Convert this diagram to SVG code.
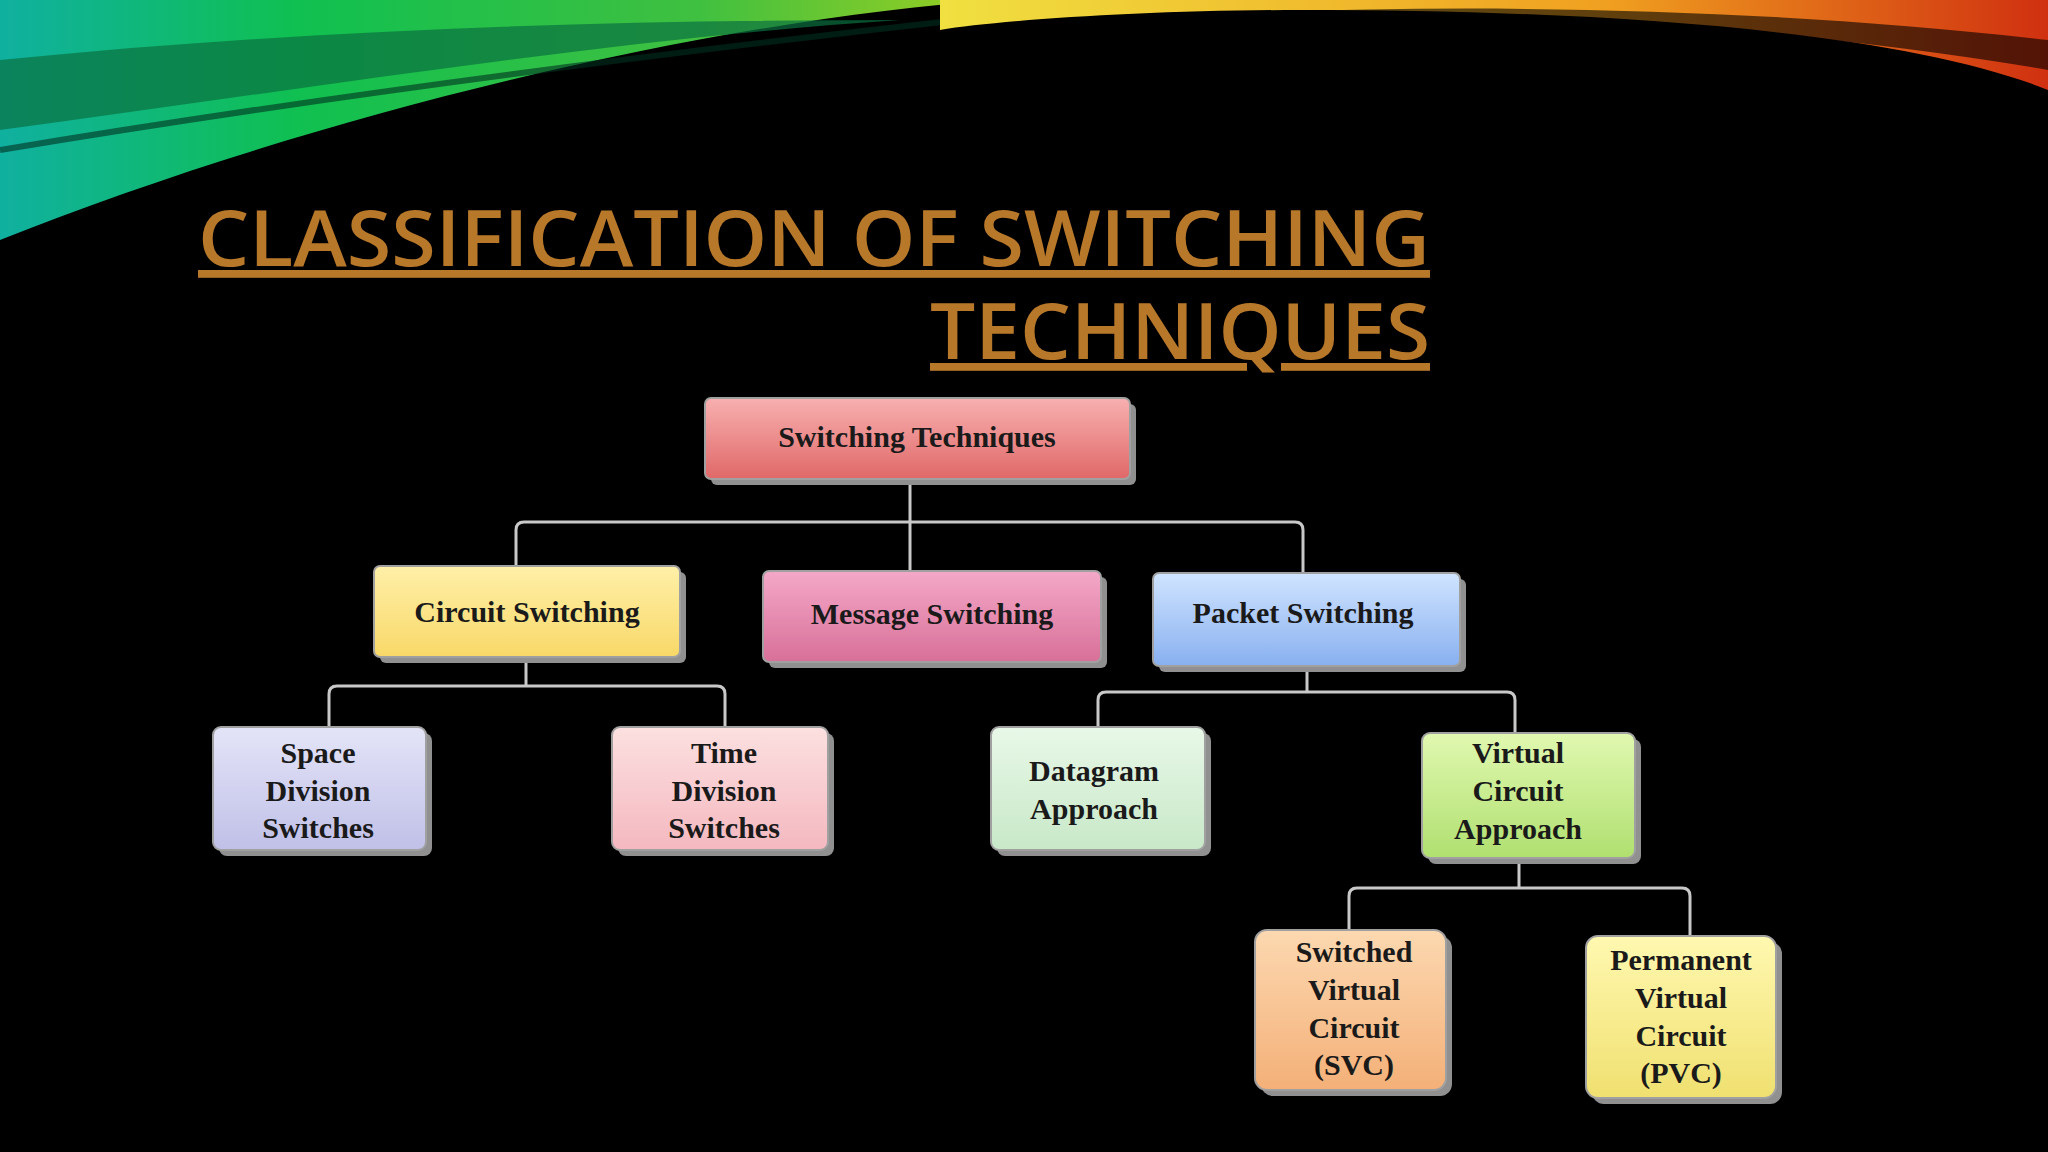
<svg xmlns="http://www.w3.org/2000/svg" width="2048" height="1152" viewBox="0 0 2048 1152">
<defs>
<linearGradient id="sw" x1="0" y1="0" x2="1" y2="0">
<stop offset="0" stop-color="#10b0a0"/><stop offset="0.3" stop-color="#10c050"/><stop offset="0.7" stop-color="#40c040"/><stop offset="1" stop-color="#a0d020"/>
</linearGradient>
<linearGradient id="sw2" x1="0" y1="0" x2="1" y2="0">
<stop offset="0" stop-color="#f0e040"/><stop offset="0.6" stop-color="#f0a020"/><stop offset="1" stop-color="#d03010"/>
</linearGradient>
<linearGradient id="gRed" x1="0" y1="0" x2="0" y2="1"><stop offset="0" stop-color="#f8b0b0"/><stop offset="1" stop-color="#e06868"/></linearGradient>
<linearGradient id="gYel" x1="0" y1="0" x2="0" y2="1"><stop offset="0" stop-color="#fff0a8"/><stop offset="1" stop-color="#f8d868"/></linearGradient>
<linearGradient id="gPink" x1="0" y1="0" x2="0" y2="1"><stop offset="0" stop-color="#f4a8c8"/><stop offset="1" stop-color="#d87098"/></linearGradient>
<linearGradient id="gBlue" x1="0" y1="0" x2="0" y2="1"><stop offset="0" stop-color="#d0e4ff"/><stop offset="1" stop-color="#88b0f0"/></linearGradient>
<linearGradient id="gLav" x1="0" y1="0" x2="0" y2="1"><stop offset="0" stop-color="#e4e4f8"/><stop offset="1" stop-color="#c0c0e8"/></linearGradient>
<linearGradient id="gRose" x1="0" y1="0" x2="0" y2="1"><stop offset="0" stop-color="#fce0e0"/><stop offset="1" stop-color="#f4b8c0"/></linearGradient>
<linearGradient id="gMint" x1="0" y1="0" x2="0" y2="1"><stop offset="0" stop-color="#e8f8e8"/><stop offset="1" stop-color="#c8e8c8"/></linearGradient>
<linearGradient id="gGreen" x1="0" y1="0" x2="0" y2="1"><stop offset="0" stop-color="#e0f8b0"/><stop offset="1" stop-color="#b0e070"/></linearGradient>
<linearGradient id="gOr" x1="0" y1="0" x2="0" y2="1"><stop offset="0" stop-color="#fcd8b0"/><stop offset="1" stop-color="#f4b078"/></linearGradient>
<linearGradient id="gPy" x1="0" y1="0" x2="0" y2="1"><stop offset="0" stop-color="#fff8b0"/><stop offset="1" stop-color="#f0e070"/></linearGradient>
</defs>
<style>
.box{stroke:#a0a0a0;stroke-width:2}
.sh{fill:#909090}
.t{font-family:"Liberation Serif","DejaVu Serif",serif;font-weight:bold;font-size:30px;fill:#1a1a1a;text-anchor:middle}
.c{fill:none;stroke:#c8c8c8;stroke-width:3}
.title{font-family:"Open Sans","Liberation Sans",sans-serif;font-weight:600;font-size:78px;fill:#b8782a;text-anchor:end;text-decoration:underline}
</style>
<rect width="2048" height="1152" fill="#000"/>
<path d="M0 0 H1000 C700 20 300 120 0 240 Z" fill="url(#sw)"/>
<path d="M0 60 C300 30 600 20 900 20 C600 40 300 90 0 130 Z" fill="#0a7040" opacity="0.7"/>
<path d="M0 150 C300 100 600 60 960 20" stroke="#003020" stroke-width="6" fill="none" opacity="0.6"/>
<path d="M940 0 H2048 V90 C1900 30 1600 10 1300 10 C1150 10 1000 20 940 30 Z" fill="url(#sw2)"/>
<path d="M1000 30 C1300 5 1700 10 2048 70 V40 C1700 0 1300 0 1000 30Z" fill="#000" opacity="0.6"/>
<text class="title" x="1430" y="266" textLength="1232" lengthAdjust="spacingAndGlyphs">CLASSIFICATION OF SWITCHING</text>
<text class="title" x="1430" y="359" textLength="500" lengthAdjust="spacingAndGlyphs">TECHNIQUES</text>
<g id="connectors">
<path class="c" d="M910 479 V522 M516 566 V530 Q516 522 524 522 H1295 Q1303 522 1303 530 V573 M910 522 V571"/>
<path class="c" d="M526 657 V686 M329 727 V694 Q329 686 337 686 H717 Q725 686 725 694 V727"/>
<path class="c" d="M1307 666 V692 M1098 727 V700 Q1098 692 1106 692 H1507 Q1515 692 1515 700 V733"/>
<path class="c" d="M1519 858 V888 M1349 930 V896 Q1349 888 1357 888 H1682 Q1690 888 1690 896 V936"/>
</g>
<g id="n1"><rect class="sh" x="711" y="404" width="425" height="81" rx="6"/><rect class="box" x="705" y="398" width="425" height="81" rx="6" fill="url(#gRed)"/><text class="t" x="917" y="447">Switching Techniques</text></g>
<g id="n2"><rect class="sh" x="380" y="572" width="306" height="91" rx="6"/><rect class="box" x="374" y="566" width="306" height="91" rx="6" fill="url(#gYel)"/><text class="t" x="527" y="622">Circuit Switching</text></g>
<g id="n3"><rect class="sh" x="769" y="577" width="338" height="91" rx="6"/><rect class="box" x="763" y="571" width="338" height="91" rx="6" fill="url(#gPink)"/><text class="t" x="932" y="624">Message Switching</text></g>
<g id="n4"><rect class="sh" x="1159" y="579" width="307" height="93" rx="6"/><rect class="box" x="1153" y="573" width="307" height="93" rx="6" fill="url(#gBlue)"/><text class="t" x="1303" y="623">Packet Switching</text></g>
<g id="n5"><rect class="sh" x="219" y="733" width="213" height="123" rx="8"/><rect class="box" x="213" y="727" width="213" height="123" rx="8" fill="url(#gLav)"/><text class="t" x="318" y="763">Space</text><text class="t" x="318" y="801">Division</text><text class="t" x="318" y="838">Switches</text></g>
<g id="n6"><rect class="sh" x="618" y="733" width="216" height="123" rx="8"/><rect class="box" x="612" y="727" width="216" height="123" rx="8" fill="url(#gRose)"/><text class="t" x="724" y="763">Time</text><text class="t" x="724" y="801">Division</text><text class="t" x="724" y="838">Switches</text></g>
<g id="n7"><rect class="sh" x="997" y="733" width="214" height="123" rx="8"/><rect class="box" x="991" y="727" width="214" height="123" rx="8" fill="url(#gMint)"/><text class="t" x="1094" y="781">Datagram</text><text class="t" x="1094" y="819">Approach</text></g>
<g id="n8"><rect class="sh" x="1428" y="739" width="213" height="125" rx="8"/><rect class="box" x="1422" y="733" width="213" height="125" rx="8" fill="url(#gGreen)"/><text class="t" x="1518" y="763">Virtual</text><text class="t" x="1518" y="801">Circuit</text><text class="t" x="1518" y="839">Approach</text></g>
<g id="n9"><rect class="sh" x="1261" y="936" width="191" height="160" rx="12"/><rect class="box" x="1255" y="930" width="191" height="160" rx="12" fill="url(#gOr)"/><text class="t" x="1354" y="962">Switched</text><text class="t" x="1354" y="1000">Virtual</text><text class="t" x="1354" y="1038">Circuit</text><text class="t" x="1354" y="1075">(SVC)</text></g>
<g id="n10"><rect class="sh" x="1592" y="942" width="190" height="162" rx="12"/><rect class="box" x="1586" y="936" width="190" height="162" rx="12" fill="url(#gPy)"/><text class="t" x="1681" y="970">Permanent</text><text class="t" x="1681" y="1008">Virtual</text><text class="t" x="1681" y="1046">Circuit</text><text class="t" x="1681" y="1083">(PVC)</text></g>
</svg>
